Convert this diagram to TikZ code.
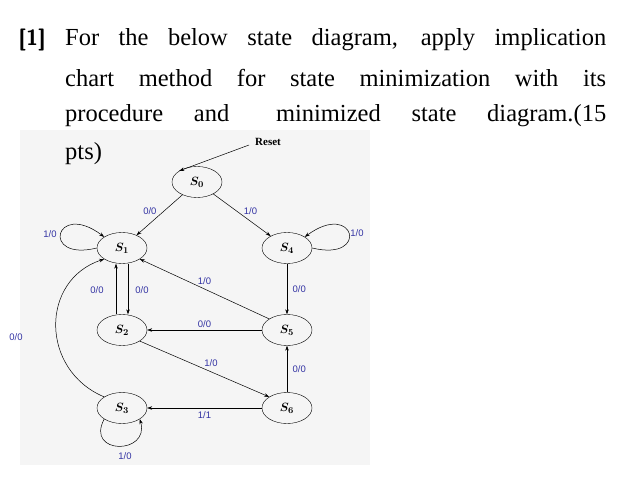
\documentclass[tikz,border=0pt]{standalone}
\usepackage{fontspec}
\setmainfont{Liberation Serif}
\newfontfamily\lblfont{Liberation Sans}
\usetikzlibrary{shapes.geometric,arrows.meta}
\begin{document}
\begin{tikzpicture}[x=1pt,y=-1pt,
  st/.style={draw,ellipse,minimum width=50pt,minimum height=31pt,inner sep=0pt,font=\fontsize{13}{14}\selectfont\boldmath},
  tr/.style={-{Stealth[length=5pt,width=3.5pt]},line width=0.5pt},
  lb/.style={text=blue!55!black!80,font=\lblfont\fontsize{9.5}{10}\selectfont}]
\useasboundingbox (0,0) rectangle (620,486);
\fill[gray!8] (20,130) rectangle (370,465);
\node[anchor=west,font=\sffamily\bfseries\fontsize{22}{24}\selectfont] (num) at (15,40) {[1]};
\node[anchor=west,font=\fontsize{24.5}{26}\selectfont,inner sep=0] (l1) at (65,40) {\makebox[541pt][s]{For the below state diagram, apply implication}};
\node[anchor=west,font=\fontsize{24.5}{26}\selectfont,inner sep=0] (l2) at (65,78) {\makebox[541pt][s]{chart method for state minimization with its}};
\node[anchor=west,font=\fontsize{24.5}{26}\selectfont,inner sep=0] (l3) at (65,116) {\makebox[541pt][s]{procedure and\hspace{16pt} minimized state diagram.(15}};
\node[anchor=west,font=\fontsize{24.5}{26}\selectfont,inner sep=0] (l4) at (65,154) {pts)};
\node[st] (s0) at (197,182) {$S_0$};
\node[st] (s1) at (122,248) {$S_1$};
\node[st] (s4) at (287,248) {$S_4$};
\node[st] (s2) at (122,330) {$S_2$};
\node[st] (s5) at (287,330) {$S_5$};
\node[st] (s3) at (122,408) {$S_3$};
\node[st] (s6) at (287,408) {$S_6$};
\node[font=\bfseries\fontsize{11}{12}\selectfont] (rs) at (268,142) {Reset};
\coordinate (rst) at (249,145);
\draw[tr] (rst) -- (s0.north west);
\draw[tr] (s0) -- (s1) node[lb,pos=0.4,left=4pt] {0/0};
\draw[tr] (s0) -- (s4) node[lb,pos=0.4,right=4pt] {1/0};
\draw[tr] (s1.west) .. controls (40,262) and (55,200) .. (s1.north west);
\node[lb] (l1a) at (50,234) {1/0};
\draw[tr] (s4.east) .. controls (370,262) and (355,200) .. (s4.north east);
\node[lb] (l4a) at (357,233) {1/0};
\draw[tr] ([xshift=-6pt]s2.north) -- ([xshift=-6pt]s1.south);
\draw[tr] ([xshift=6pt]s1.south) -- ([xshift=6pt]s2.north);
\node[lb] (a) at (97,290) {0/0};
\node[lb] (b) at (142,290) {0/0};
\draw[tr] (s5.north west) -- (s1.south east) node[lb,pos=0.5,above=1pt] {1/0};
\draw[tr] (s4) -- (s5) node[lb,midway,right=2pt] {0/0};
\draw[tr] (s5) -- (s2) node[lb,midway,above=-1pt] {0/0};
\draw[tr] (s2.south east) -- (s6.north west) node[lb,pos=0.55,above=2pt] {1/0};
\draw[tr] (s6) -- (s5) node[lb,midway,right=2pt] {0/0};
\draw[tr] (s6) -- (s3) node[lb,midway,below=0pt] {1/1};
\draw[tr] (s3.north west) .. controls (40,370) and (40,280) .. (s1.south west);
\node[lb] (c) at (16,337) {0/0};
\draw[tr] (s3.south west) .. controls (85,455) and (150,455) .. (s3.south east);
\node[lb] (d) at (125,456) {1/0};
\end{tikzpicture}
\end{document}
